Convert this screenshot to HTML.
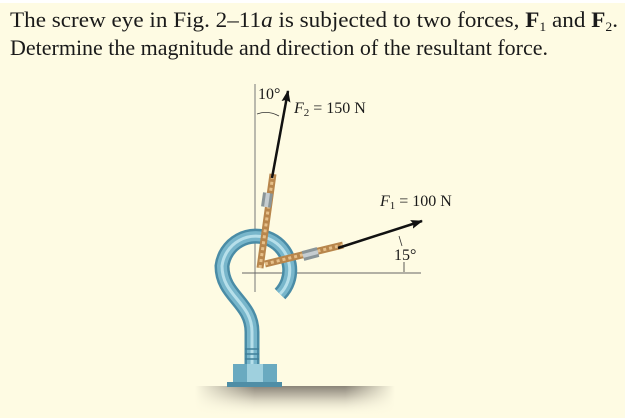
<!DOCTYPE html>
<html><head><meta charset="utf-8"><style>
html,body{margin:0;padding:0;background:#fefbe3;}
svg{display:block}
</style></head><body>
<svg width="625" height="418" viewBox="0 0 625 418" xmlns="http://www.w3.org/2000/svg">
<defs>
<linearGradient id="gnd" x1="0" y1="0" x2="0" y2="1">
<stop offset="0" stop-color="#8a8478"/><stop offset="0.35" stop-color="#c4bead"/><stop offset="1" stop-color="#fefbe3" stop-opacity="0"/>
</linearGradient>
<linearGradient id="gndx" x1="0" y1="0" x2="1" y2="0">
<stop offset="0" stop-color="#fefbe3" stop-opacity="1"/><stop offset="0.3" stop-color="#fefbe3" stop-opacity="0"/><stop offset="0.75" stop-color="#fefbe3" stop-opacity="0"/><stop offset="1" stop-color="#fefbe3" stop-opacity="1"/>
</linearGradient>
<marker id="ah" markerWidth="12" markerHeight="9" refX="11" refY="4.5" orient="auto" markerUnits="userSpaceOnUse">
<path d="M0,0 L12,4.5 L0,9 L2,4.5 Z" fill="#111"/></marker>
</defs>
<rect x="0" y="0" width="625" height="3" fill="#fff"/>
<g font-family="Liberation Serif, serif" fill="#1a1a1a">
<text x="10" y="27" font-size="22" textLength="608" lengthAdjust="spacingAndGlyphs">The screw eye in Fig. 2–11<tspan font-style="italic">a</tspan> is subjected to two forces, <tspan font-weight="bold">F</tspan><tspan font-size="13" dy="4">1</tspan><tspan dy="-4"> and </tspan><tspan font-weight="bold">F</tspan><tspan font-size="13" dy="4">2</tspan><tspan dy="-4">.</tspan></text>
<text x="10" y="55" font-size="22" textLength="538" lengthAdjust="spacingAndGlyphs">Determine the magnitude and direction of the resultant force.</text>
</g>
<!-- ground -->
<rect x="195" y="386" width="200" height="30" fill="url(#gnd)"/>
<rect x="195" y="386" width="200" height="30" fill="url(#gndx)"/>
<!-- reference lines -->
<line x1="255" y1="84" x2="255" y2="292" stroke="#777" stroke-width="1"/>
<line x1="242" y1="273" x2="421" y2="273" stroke="#666" stroke-width="1"/>
<!-- hook -->
<path d="M 280 294 A 34 34 0 1 0 222 266 C 222 296 252 302 252 332 L 252 368" fill="none" stroke="#4a8ca6" stroke-width="15"/>
<path d="M 280 294 A 34 34 0 1 0 222 266 C 222 296 252 302 252 332 L 252 368" fill="none" stroke="#78b6cb" stroke-width="10"/>
<path d="M 280 294 A 34 34 0 1 0 222 266 C 222 296 252 302 252 332 L 252 368" fill="none" stroke="#b6dfea" stroke-width="3"/>
<g stroke="#3f7f99" stroke-width="1.5"><line x1="245" y1="349" x2="259" y2="349"/><line x1="245" y1="354" x2="259" y2="354"/><line x1="245" y1="359" x2="259" y2="359"/></g>
<!-- nut -->
<rect x="233" y="364" width="44" height="20" fill="#6aaac0"/>
<rect x="247" y="364" width="16" height="20" fill="#9fd0de"/>
<rect x="227" y="382" width="55" height="5" fill="#4f8ea6"/>
<!-- ropes -->
<line x1="260" y1="268" x2="273" y2="174" stroke="#b8864c" stroke-width="7"/>
<line x1="260" y1="268" x2="273" y2="174" stroke="#e6c08a" stroke-width="3" stroke-dasharray="3 3"/>
<line x1="266" y1="207" x2="268" y2="193" stroke="#8a9598" stroke-width="10"/>
<line x1="266" y1="207" x2="268" y2="193" stroke="#c6cdd0" stroke-width="4"/>
<line x1="265" y1="264" x2="343" y2="245" stroke="#b8864c" stroke-width="7"/>
<line x1="265" y1="264" x2="343" y2="245" stroke="#e6c08a" stroke-width="3" stroke-dasharray="3 3"/>
<line x1="303" y1="256" x2="318" y2="252" stroke="#8a9598" stroke-width="10"/>
<line x1="303" y1="256" x2="318" y2="252" stroke="#c6cdd0" stroke-width="4"/>
<!-- arrows -->
<line x1="272" y1="178" x2="288" y2="91" stroke="#111" stroke-width="2.5" marker-end="url(#ah)"/>
<line x1="338" y1="248" x2="422" y2="221" stroke="#111" stroke-width="2.5" marker-end="url(#ah)"/>
<!-- angle arcs -->
<path d="M 257 114 Q 268 110 279 116" fill="none" stroke="#333" stroke-width="0.8"/>
<line x1="399" y1="236" x2="402" y2="246" stroke="#333" stroke-width="0.8"/>
<line x1="404" y1="262" x2="404" y2="272" stroke="#333" stroke-width="0.8"/>
<g font-family="Liberation Serif, serif" fill="#1a1a1a" font-size="16">
<text x="258" y="99">10°</text>
<text x="294" y="113"><tspan font-style="italic">F</tspan><tspan font-size="11" dy="3">2</tspan><tspan dy="-3"> = 150 N</tspan></text>
<text x="380" y="206"><tspan font-style="italic">F</tspan><tspan font-size="11" dy="3">1</tspan><tspan dy="-3"> = 100 N</tspan></text>
<text x="394" y="260">15°</text>
</g>
</svg>
</body></html>
